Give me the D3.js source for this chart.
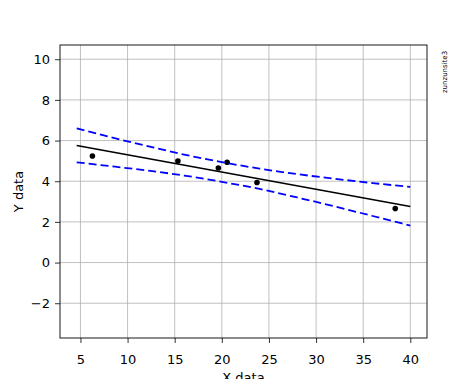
<!DOCTYPE html>
<html><head><meta charset="utf-8">
<script src="https://cdn.jsdelivr.net/npm/d3@7"></script>
<style>body{margin:0;background:#fff}svg{display:block}text{font-family:"DejaVu Sans",sans-serif}</style>
</head><body><svg id="c" width="474" height="379"></svg>
<script>
const dataX = [6.27, 15.34, 19.63, 20.56, 23.73, 38.4];
const dataY = [5.24, 4.99, 4.65, 4.93, 3.94, 2.66];
const fitX = [4.6, 40.0];
const fitY = [5.76, 2.76];
const bandX = [4.6, 8, 12, 16, 20, 24, 28, 32, 36, 40];
const bandUpper = [6.60, 6.19, 5.74, 5.31, 4.94, 4.62, 4.35, 4.12, 3.91, 3.72];
const bandLower = [4.93, 4.75, 4.53, 4.28, 3.97, 3.62, 3.20, 2.76, 2.29, 1.82];
const xTicks = [5, 10, 15, 20, 25, 30, 35, 40];
const yTicks = [-2, 0, 2, 4, 6, 8, 10];

const svg = d3.select("#c");
const L = 60, R = 427, T = 45, B = 338;
const x = d3.scaleLinear().domain([2.83, 41.77]).range([L, R]);
const y = d3.scaleLinear().domain([-3.71, 10.70]).range([B, T]);

// grid
svg.append("g").selectAll("line").data(xTicks).join("line")
  .attr("x1", d => x(d)).attr("x2", d => x(d)).attr("y1", T).attr("y2", B)
  .attr("stroke", "#b0b0b0").attr("stroke-width", 0.8);
svg.append("g").selectAll("line").data(yTicks).join("line")
  .attr("x1", L).attr("x2", R).attr("y1", d => y(d)).attr("y2", d => y(d))
  .attr("stroke", "#b0b0b0").attr("stroke-width", 0.8);

// axes
const xa = svg.append("g").attr("transform", `translate(0,${B})`)
  .call(d3.axisBottom(x).tickValues(xTicks).tickSize(5).tickPadding(12).tickFormat(d3.format("d")));
const ya = svg.append("g").attr("transform", `translate(${L},0)`)
  .call(d3.axisLeft(y).tickValues(yTicks).tickSize(5).tickPadding(5).tickFormat(d => d < 0 ? "\u2212" + Math.abs(d) : d));
[xa, ya].forEach(g => {
  g.select(".domain").remove();
  g.selectAll("text").attr("font-size", 13).attr("fill", "#000").attr("font-family", "DejaVu Sans");
  g.selectAll("line").attr("stroke", "#000").attr("stroke-width", 0.8);
});

// points
svg.append("g").selectAll("circle").data(dataX).join("circle")
  .attr("cx", d => x(d)).attr("cy", (d, i) => y(dataY[i])).attr("r", 2.8).attr("fill", "#000");

// fit line
const line = d3.line().x(d => x(d[0])).y(d => y(d[1]));
svg.append("path").attr("d", line(fitX.map((v, i) => [v, fitY[i]])))
  .attr("fill", "none").attr("stroke", "#000").attr("stroke-width", 1.6);

// bands
const cl = d3.line().x(d => x(d[0])).y(d => y(d[1])).curve(d3.curveMonotoneX);
[bandUpper, bandLower].forEach(arr => {
  svg.append("path").attr("d", cl(bandX.map((v, i) => [v, arr[i]])))
    .attr("fill", "none").attr("stroke", "#0000ff").attr("stroke-width", 1.8)
    .attr("stroke-dasharray", "8,4");
});

// frame
svg.append("rect").attr("x", L).attr("y", T).attr("width", R - L).attr("height", B - T)
  .attr("fill", "none").attr("stroke", "#000").attr("stroke-width", 0.9);

// labels
svg.append("text").attr("x", (L + R) / 2).attr("y", 382).attr("text-anchor", "middle")
  .attr("font-size", 13).text("X data");
svg.append("text").attr("transform", `translate(23,${(T + B) / 2}) rotate(-90)`)
  .attr("text-anchor", "middle").attr("font-size", 13).text("Y data");
svg.append("text").attr("transform", `translate(447,72) rotate(-90)`)
  .attr("text-anchor", "middle").attr("font-size", 7).text("zunzunsite3");
</script></body></html>
